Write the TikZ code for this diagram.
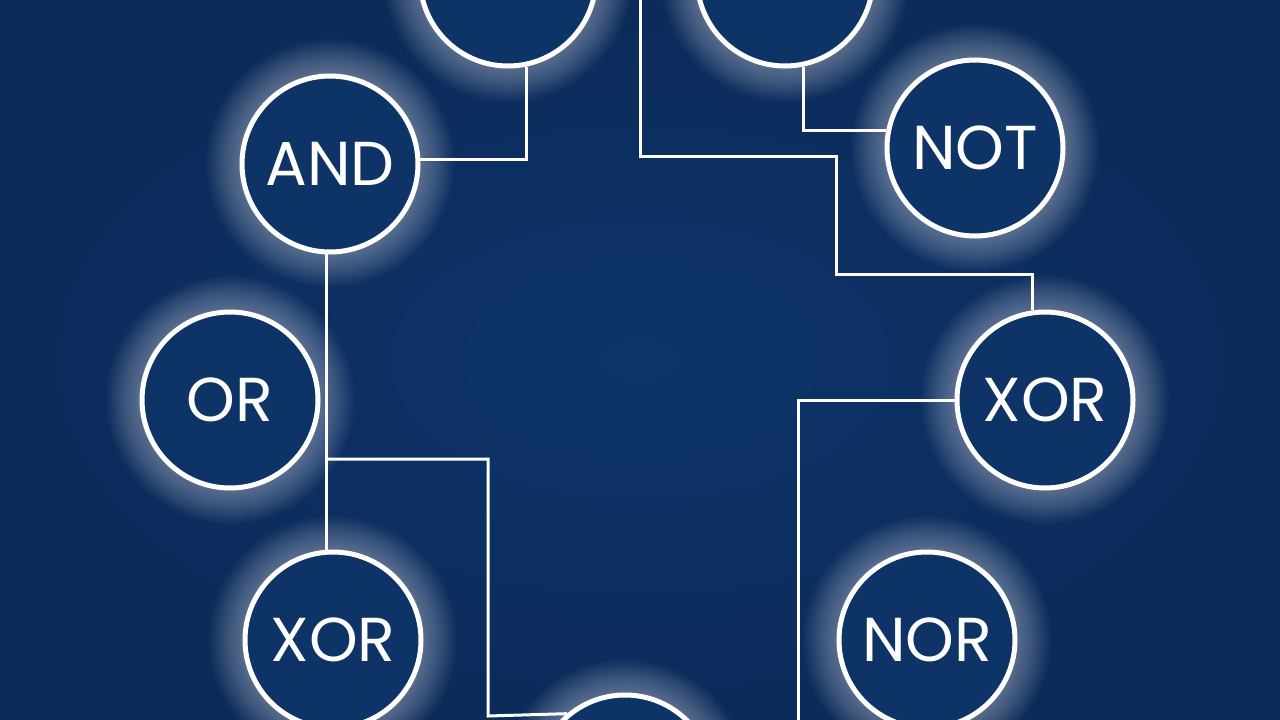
\documentclass[tikz,border=0pt]{standalone}
\usepackage{fontspec}
\setmainfont{Poppins}
\usepackage{tikz}
\usetikzlibrary{positioning}
\usetikzlibrary{calc}

\definecolor{bgin}{HTML}{0E346A}
\definecolor{bgout}{HTML}{0B2B5A}
\definecolor{gatefill}{HTML}{0E3467}

\tikzset{
  gate/.style={circle, draw=white, line width=5pt, fill=gatefill,
    minimum size=176pt, inner sep=0pt, text=white,
    font=\fontsize{62}{62}\selectfont},
  wire/.style={draw=white, line width=3pt},
}

\begin{document}
\begin{tikzpicture}
      [x=1pt, y=-1pt]
      \useasboundingbox (0,0) rectangle (1280,720);
      \clip (0,0) rectangle (1280,720);
      \shade [inner color=bgin, outer color=bgout] (0,0) rectangle (1280,720);

      % glow behind the gates
      \foreach \cx/\cy in {508/-22, 785/-22, 330/163, 975/148, 230/400,
                           1045/400, 333/640, 927/640, 625/783} {
        \foreach \r in {90,92,...,124}
          \fill [white, opacity=0.022] (\cx,\cy) circle (\r);
      }

      \node (topL) [gate] at (508, -22) {};
      \node (topR) [gate] at (785, -22) {};
      \node (and)  [gate] at (330, 164) {AND};
      \node (not)  [gate] at (975, 148) {NOT};
      \node (or)   [gate] at (230, 400) {OR};
      \node (xorR) [gate] at (1045, 400) {XOR};
      \node (xorL) [gate] at (333, 640) {XOR};
      \node (nor)  [gate] at (927, 640) {NOR};
      \node (bot)  [gate] at (625, 783) {};

      \coordinate (edgeT) at (640, -5);
      \coordinate (bendA) at (836, 156);
      \coordinate (bendB) at (836, 274);
      \coordinate (junc)  at (327, 459);
      \coordinate (bendC) at (488, 716);
      \coordinate (edgeB) at (798, 725);

      \draw [wire] (topL.-78) |- (and.3);
      \draw [wire] (topR.-78) |- (not.169);
      \draw [wire] (edgeT) |- (bendA) -- (bendB) -| (xorR.98);
      \draw [wire] (and.-92) -- (and.-92 |- xorL.north);
      \draw [wire] (junc) -| (bendC) -- (bot.130);
      \draw [wire] (xorR.west) -| (edgeB);

    \end{tikzpicture}
\end{document}
